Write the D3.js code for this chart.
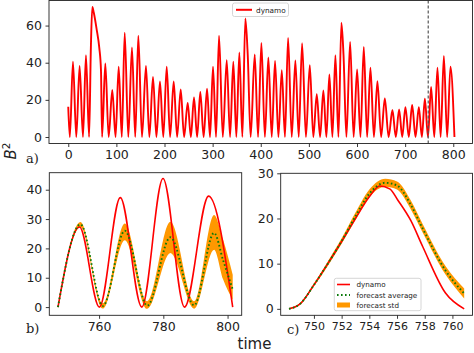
<!DOCTYPE html>
<html><head><meta charset="utf-8">
<script src="https://cdn.jsdelivr.net/npm/d3@7"></script>
<style>
body{margin:0;background:#fff}
svg{display:block}
text{font-family:"DejaVu Sans",sans-serif;fill:#222}
</style>
</head><body>
<svg id="c" width="474" height="353"></svg>
<script>
// ---------- data ----------
// panel a) : full dynamo run, B^2 vs time
const topT = [0,3.3,9.8,16.7,23.6,30.6,36.8,43.3,47,50,53,59,64.5,68,70.3,77,84,91.5,98.3,104.8,111.3,117.3,124.8,132.4,139.2,145.6,153.2,161.5,168.5,176.1,183.2,190.6,197.5,204.6,211.6,219.1,226.2,233.7,240.7,248.2,254.8,261.3,267.8,274.4,281.3,288.4,294.6,300.8,307.1,313.3,321.2,329.3,336.2,343,349.3,355.5,361.8,368,373,379,387.5,394.4,401.3,408.6,415.8,422.8,429.7,436.7,443.7,450.3,456.8,464.4,471.9,478.9,485.9,493.9,501.9,509.2,516.4,523.3,530.1,536.4,542.6,548.9,555.1,561.4,567.6,572,578,585.7,593,600.2,607.2,614.1,621,627.9,635.2,642.4,650.1,657.8,665.7,673.6,680.6,687.5,694,700.6,707.6,714.6,721.6,728.5,734.8,741,747.5,754,760.6,767.2,773.8,780.5,787.3,794.2,802.5];
const topV = [16.3,0,40.5,0,38.2,0,44.1,0,48,70,67,58,48,36,0,39.6,0,25.3,0,37.8,0,56.1,0,48.2,0,54.5,0,38.3,0,32.4,0,29.9,0,37.8,0,29.9,0,25.6,0,18.4,0,21.3,0,24.2,0,26,0,37.8,0,54.5,0,41.4,0,40.5,0,45.5,0,63.8,44,0,44.5,0,50.7,0,42.8,0,41,0,36,0,53.4,0,41.2,0,50.5,0,38.7,0,23,0,25.1,0,33.7,0,44.1,0,61.5,44,0,51.2,0,36.4,0,48.5,0,37.3,0,30.1,0,20.8,0,14.5,0,14.9,0,16.1,0,17.2,0,16.1,0,20.6,0,27,0,37.3,0,43.7,0,37.8,0];
const splitTime = 748;
const topXTicks = [0,100,200,300,400,500,600,700,800];
const topYTicks = [0,20,40,60];

// panel b) : long forecast
const blDynT = [747.2,753.9,760.1,766.6,773.3,779.9,786.6,794.1,801.6];
const blDynV = [0,27.3,0,37.3,0,43.8,0,37.8,0];
const blFcT  = [747.2,754.2,761.2,768,775,782.2,789.6,795.8,798.6,801.6];
const blFcV  = [0,28.2,0.4,26,0.5,23.8,0.6,25.3,16,6];
const blUp   = [0.3,29,1.3,28.5,2,29.1,2,31.4,23,11];
const blLo   = [-0.3,27.3,-0.5,22.8,-0.6,18.4,-0.6,19.5,9.5,2.5];
const blXTicks = [760,780,800];
const blYTicks = [0,10,20,30,40];

// panel c) : short forecast
const brDynT = [748.2,749,750,751,752,753,754,754.75,755.5,756.05,757,757.85,759.5,760.85];
const brDynV = [0,1.1,5.3,10,14.9,20,24.8,27.2,26.5,24.1,19.5,13.8,3.5,0];
const brFcT  = [748.2,749,750,751,752,753,754,755.15,756,757,757.85,759.5,760.85];
const brFcV  = [0,1.1,5.3,10,15,20.5,25.5,27.9,27.3,23,17.8,8.5,3.4];
const brUp   = [0.1,1.3,5.6,10.5,15.6,21.3,26.4,28.8,28.2,24,18.8,9.5,4.5];
const brLo   = [-0.1,0.9,5,9.5,14.4,19.7,24.7,27,26.4,22,16.9,7.6,2.3];
const brXTicks = [750,752,754,756,758,760];
const brYTicks = [0,10,20,30];

const RED = "#ff0000", GREEN = "#0a7a0a", ORANGE = "#ff9800";

const svg = d3.select("#c");

function panel(o){
  const g = svg.append("g");
  const x = d3.scaleLinear().domain(o.xd).range([o.l, o.r]);
  const y = d3.scaleLinear().domain(o.yd).range([o.b, o.t]);
  const id = "clip" + o.name;
  svg.append("clipPath").attr("id", id).append("rect")
    .attr("x", o.l).attr("y", o.t).attr("width", o.r-o.l).attr("height", o.b-o.t);
  const plot = g.append("g").attr("clip-path", `url(#${id})`);
  const ax = g.append("g").attr("transform", `translate(0,${o.b})`)
    .call(d3.axisBottom(x).tickValues(o.xt).tickFormat(d3.format("d")).tickSize(3.5).tickPadding(3).tickSizeOuter(0));
  ax.selectAll("text").style("font-size", o.xfs + "px").style("fill", "#222").attr("font-family","DejaVu Sans");
  const ay = g.append("g").attr("transform", `translate(${o.l},0)`)
    .call(d3.axisLeft(y).tickValues(o.yt).tickFormat(d3.format("d")).tickSize(3.5).tickPadding(3.5).tickSizeOuter(0));
  ay.selectAll("text").style("font-size", o.yfs + "px").style("fill", "#222").attr("font-family","DejaVu Sans");
  g.selectAll(".domain").remove();
  g.selectAll(".tick line").attr("stroke", "#222").attr("stroke-width", 0.9);
  g.append("rect").attr("x", o.l).attr("y", o.t).attr("width", o.r-o.l).attr("height", o.b-o.t)
    .attr("fill", "none").attr("stroke", "#222").attr("stroke-width", 0.9);
  return {x, y, plot, g};
}

// ---------- panel a ----------
const A = panel({name:"a", l:49, r:472.5, t:0.5, b:143.5, xd:[-40,840], yd:[-3.5,73.5], xt:topXTicks, yt:topYTicks, xfs:12.5, yfs:12.5});
const topData = topT.map((t,i)=>[t, topV[i]]);
A.plot.append("path").datum(topData)
  .attr("fill","none").attr("stroke",RED).attr("stroke-width",1.9).attr("stroke-linejoin","round")
  .attr("d", d3.line().x(d=>A.x(d[0])).y(d=>A.y(d[1])).curve(d3.curveMonotoneX));
A.plot.append("line").attr("x1",A.x(splitTime)).attr("x2",A.x(splitTime))
  .attr("y1",A.y(73.5)).attr("y2",A.y(-3.5))
  .attr("stroke","#555").attr("stroke-width",1.2).attr("stroke-dasharray","3,2");
const la = A.g.append("g");
la.append("rect").attr("x",232.5).attr("y",3).attr("width",56).attr("height",13.5).attr("rx",2)
  .attr("fill","#fff").attr("fill-opacity",0.85).attr("stroke","#ccc").attr("stroke-width",0.8);
la.append("line").attr("x1",236).attr("x2",252).attr("y1",9.8).attr("y2",9.8).attr("stroke",RED).attr("stroke-width",2);
la.append("text").attr("x",256).attr("y",12.5).style("font-size","7.3px").text("dynamo");

function drawForecast(P, dynT, dynV, fcT, fcV, up, lo, wRed){
  const band = fcT.map((t,i)=>[t, lo[i], up[i]]);
  P.plot.append("path").datum(band).attr("fill",ORANGE).attr("stroke","none")
    .attr("d", d3.area().x(d=>P.x(d[0])).y0(d=>P.y(d[1])).y1(d=>P.y(d[2])).curve(d3.curveMonotoneX));
  P.plot.append("path").datum(dynT.map((t,i)=>[t,dynV[i]]))
    .attr("fill","none").attr("stroke",RED).attr("stroke-width",wRed)
    .attr("d", d3.line().x(d=>P.x(d[0])).y(d=>P.y(d[1])).curve(d3.curveMonotoneX));
  P.plot.append("path").datum(fcT.map((t,i)=>[t,fcV[i]]))
    .attr("fill","none").attr("stroke",GREEN).attr("stroke-width",1.9).attr("stroke-dasharray","1.6,2.4")
    .attr("d", d3.line().x(d=>P.x(d[0])).y(d=>P.y(d[1])).curve(d3.curveMonotoneX));
}

// ---------- panel b ----------
const B = panel({name:"b", l:49.3, r:241.7, t:172.7, b:315.3, xd:[744.5,804.4], yd:[-2.8,45.8], xt:blXTicks, yt:blYTicks, xfs:12.5, yfs:12.5});
drawForecast(B, blDynT, blDynV, blFcT, blFcV, blUp, blLo, 1.6);

// ---------- panel c ----------
const C = panel({name:"c", l:280.7, r:472.5, t:173.3, b:315.3, xd:[747.6,761.45], yd:[-1.43,30], xt:brXTicks, yt:brYTicks, xfs:11, yfs:12.5});
drawForecast(C, brDynT, brDynV, brFcT, brFcV, brUp, brLo, 1.6);
const lc = C.g.append("g");
lc.append("rect").attr("x",334.3).attr("y",278.3).attr("width",86.7).attr("height",32.4).attr("rx",2)
  .attr("fill","#fff").attr("fill-opacity",0.85).attr("stroke","#ccc").attr("stroke-width",0.8);
lc.append("line").attr("x1",337).attr("x2",350).attr("y1",284.5).attr("y2",284.5).attr("stroke",RED).attr("stroke-width",1.6);
lc.append("line").attr("x1",337).attr("x2",350).attr("y1",295).attr("y2",295).attr("stroke",GREEN).attr("stroke-width",1.9).attr("stroke-dasharray","1.6,2.4");
lc.append("rect").attr("x",337).attr("y",302.5).attr("width",13).attr("height",5).attr("fill",ORANGE);
const legTxt = ["dynamo","forecast average","forecast std"];
[287,297.5,308].forEach((yy,i)=>lc.append("text").attr("x",356.5).attr("y",yy).style("font-size","7.2px").text(legTxt[i]));

// ---------- labels ----------
const lab = svg.append("g");
lab.append("text").attr("x",26).attr("y",162.5).style("font-family","DejaVu Serif").style("font-size","13px").text("a)");
lab.append("text").attr("x",26).attr("y",333).style("font-family","DejaVu Serif").style("font-size","13px").text("b)");
lab.append("text").attr("x",287).attr("y",334).style("font-family","DejaVu Serif").style("font-size","13px").text("c)");
lab.append("text").attr("x",254.5).attr("y",349).attr("text-anchor","middle").style("font-size","15px").text("time");
const bl = lab.append("text").attr("transform","translate(16,151) rotate(-90)").attr("text-anchor","middle").style("font-size","15px");
bl.append("tspan").style("font-style","italic").text("B");
bl.append("tspan").attr("dy",-6).style("font-size","10.5px").text("2");
</script>
</body></html>
